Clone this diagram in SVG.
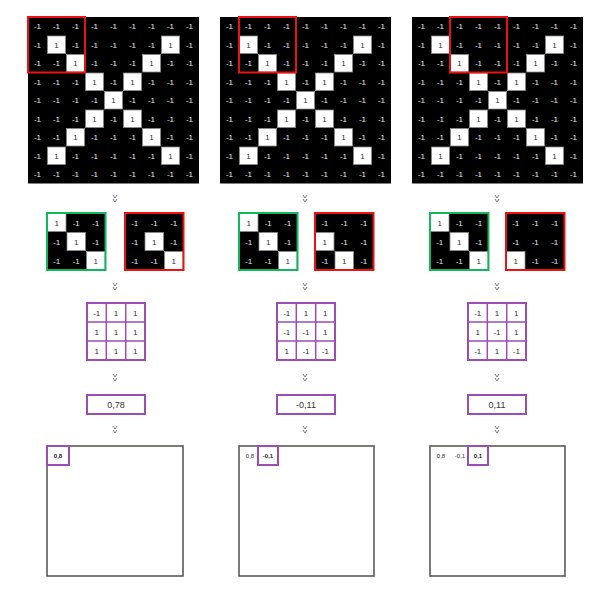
<svg xmlns="http://www.w3.org/2000/svg" xmlns:xlink="http://www.w3.org/1999/xlink" width="595" height="589" viewBox="0 0 595 589">
<style>
text{font-family:"Liberation Sans",Arial,sans-serif;text-anchor:middle}
.n{fill:#e6e6e6;font-size:8px}
.p{fill:#333;font-size:8px}
.w{fill:#fff;stroke:#8a8a8a;stroke-width:0.8}
.bg{fill:#000}
.red{fill:none;stroke:#ee1111;stroke-width:2}
.grn{fill:none;stroke:#11b85a;stroke-width:2}
.pur{fill:none;stroke:#9b4db5;stroke-width:2}
.pl{stroke:#9b4db5;stroke-width:1.5}
.val{fill:#333;font-size:9px}
.big{fill:#fff;stroke:#5a5a55;stroke-width:1.6}
.sm{fill:#333;font-size:6px}
.smb{fill:#222;font-size:6px;font-weight:bold}
.chev{fill:none;stroke:#6a6a78;stroke-width:0.9}
</style>
<defs>
<g id="grid9">
<rect class="bg" x="0" y="0" width="171" height="166.5"/>
<rect class="w" x="19.5" y="19" width="18" height="17.5"/>
<rect class="w" x="133.5" y="19" width="18" height="17.5"/>
<rect class="w" x="38.5" y="37.5" width="18" height="17.5"/>
<rect class="w" x="114.5" y="37.5" width="18" height="17.5"/>
<rect class="w" x="57.5" y="56" width="18" height="17.5"/>
<rect class="w" x="95.5" y="56" width="18" height="17.5"/>
<rect class="w" x="76.5" y="74.5" width="18" height="17.5"/>
<rect class="w" x="57.5" y="93" width="18" height="17.5"/>
<rect class="w" x="95.5" y="93" width="18" height="17.5"/>
<rect class="w" x="38.5" y="111.5" width="18" height="17.5"/>
<rect class="w" x="114.5" y="111.5" width="18" height="17.5"/>
<rect class="w" x="19.5" y="130" width="18" height="17.5"/>
<rect class="w" x="133.5" y="130" width="18" height="17.5"/>
<g class="n">
<text x="9.5" y="12.25">-1</text><text x="28.5" y="12.25">-1</text><text x="47.5" y="12.25">-1</text><text x="66.5" y="12.25">-1</text><text x="85.5" y="12.25">-1</text><text x="104.5" y="12.25">-1</text><text x="123.5" y="12.25">-1</text><text x="142.5" y="12.25">-1</text><text x="161.5" y="12.25">-1</text>
<text x="9.5" y="30.75">-1</text><text x="47.5" y="30.75">-1</text><text x="66.5" y="30.75">-1</text><text x="85.5" y="30.75">-1</text><text x="104.5" y="30.75">-1</text><text x="123.5" y="30.75">-1</text><text x="161.5" y="30.75">-1</text>
<text x="9.5" y="49.25">-1</text><text x="28.5" y="49.25">-1</text><text x="66.5" y="49.25">-1</text><text x="85.5" y="49.25">-1</text><text x="104.5" y="49.25">-1</text><text x="142.5" y="49.25">-1</text><text x="161.5" y="49.25">-1</text>
<text x="9.5" y="67.75">-1</text><text x="28.5" y="67.75">-1</text><text x="47.5" y="67.75">-1</text><text x="85.5" y="67.75">-1</text><text x="123.5" y="67.75">-1</text><text x="142.5" y="67.75">-1</text><text x="161.5" y="67.75">-1</text>
<text x="9.5" y="86.25">-1</text><text x="28.5" y="86.25">-1</text><text x="47.5" y="86.25">-1</text><text x="66.5" y="86.25">-1</text><text x="104.5" y="86.25">-1</text><text x="123.5" y="86.25">-1</text><text x="142.5" y="86.25">-1</text><text x="161.5" y="86.25">-1</text>
<text x="9.5" y="104.75">-1</text><text x="28.5" y="104.75">-1</text><text x="47.5" y="104.75">-1</text><text x="85.5" y="104.75">-1</text><text x="123.5" y="104.75">-1</text><text x="142.5" y="104.75">-1</text><text x="161.5" y="104.75">-1</text>
<text x="9.5" y="123.25">-1</text><text x="28.5" y="123.25">-1</text><text x="66.5" y="123.25">-1</text><text x="85.5" y="123.25">-1</text><text x="104.5" y="123.25">-1</text><text x="142.5" y="123.25">-1</text><text x="161.5" y="123.25">-1</text>
<text x="9.5" y="141.75">-1</text><text x="47.5" y="141.75">-1</text><text x="66.5" y="141.75">-1</text><text x="85.5" y="141.75">-1</text><text x="104.5" y="141.75">-1</text><text x="123.5" y="141.75">-1</text><text x="161.5" y="141.75">-1</text>
<text x="9.5" y="160.25">-1</text><text x="28.5" y="160.25">-1</text><text x="47.5" y="160.25">-1</text><text x="66.5" y="160.25">-1</text><text x="85.5" y="160.25">-1</text><text x="104.5" y="160.25">-1</text><text x="123.5" y="160.25">-1</text><text x="142.5" y="160.25">-1</text><text x="161.5" y="160.25">-1</text>
</g>
<g class="p">
<text x="28.5" y="30.75">1</text><text x="142.5" y="30.75">1</text>
<text x="47.5" y="49.25">1</text><text x="123.5" y="49.25">1</text>
<text x="66.5" y="67.75">1</text><text x="104.5" y="67.75">1</text>
<text x="85.5" y="86.25">1</text>
<text x="66.5" y="104.75">1</text><text x="104.5" y="104.75">1</text>
<text x="47.5" y="123.25">1</text><text x="123.5" y="123.25">1</text>
<text x="28.5" y="141.75">1</text><text x="142.5" y="141.75">1</text>
</g>
</g>
<g id="filter">
<rect class="bg" x="0" y="0" width="58.5" height="57"/>
<rect class="w" x="0.5" y="0.5" width="18.5" height="18"/>
<rect class="w" x="20" y="19.5" width="18.5" height="18"/>
<rect class="w" x="39.5" y="38.5" width="18.5" height="18"/>
<text class="p" x="9.75" y="12.5">1</text><text class="n" x="29.25" y="12.5">-1</text><text class="n" x="48.75" y="12.5">-1</text>
<text class="n" x="9.75" y="31.5">-1</text><text class="p" x="29.25" y="31.5">1</text><text class="n" x="48.75" y="31.5">-1</text>
<text class="n" x="9.75" y="50.5">-1</text><text class="n" x="29.25" y="50.5">-1</text><text class="p" x="48.75" y="50.5">1</text>
<rect class="grn" x="0" y="0" width="58.5" height="57"/>
</g>
<g id="chev"><path class="chev" d="M-2,-4 L0,-1 L2,-4 M-2,0 L0,3 L2,0"/></g>
</defs>

<!-- column 1 -->
<g id="image1"><use xlink:href="#grid9" x="28" y="17"/><rect class="red" x="28" y="17" width="57" height="55.5"/></g>
<g id="filter1"><use xlink:href="#filter" x="47" y="213"/></g>
<g id="patch1">
<rect class="bg" x="125" y="213" width="58.5" height="57"/>
<rect class="w" x="145" y="232.5" width="18.5" height="18"/>
<rect class="w" x="164.5" y="251.5" width="18.5" height="18"/>
<text class="n" x="134.75" y="225.5">-1</text><text class="n" x="154.25" y="225.5">-1</text><text class="n" x="173.75" y="225.5">-1</text>
<text class="n" x="134.75" y="244.5">-1</text><text class="p" x="154.25" y="244.5">1</text><text class="n" x="173.75" y="244.5">-1</text>
<text class="n" x="134.75" y="263.5">-1</text><text class="n" x="154.25" y="263.5">-1</text><text class="p" x="173.75" y="263.5">1</text>
<rect class="red" x="125" y="213" width="58.5" height="57"/>
</g>
<g id="product1">
<rect fill="#fff" x="87" y="303" width="58" height="57"/>
<path class="pl" d="M106.3,303V360M125.7,303V360M87,322H145M87,341H145"/>
<rect class="pur" x="87" y="303" width="58" height="57"/>
<text class="p" x="96.7" y="315.5">-1</text><text class="p" x="116" y="315.5">1</text><text class="p" x="135.3" y="315.5">1</text>
<text class="p" x="96.7" y="334.5">1</text><text class="p" x="116" y="334.5">1</text><text class="p" x="135.3" y="334.5">1</text>
<text class="p" x="96.7" y="353.5">1</text><text class="p" x="116" y="353.5">1</text><text class="p" x="135.3" y="353.5">1</text>
</g>
<g id="value1"><rect fill="#fff" class="pur" x="87" y="395" width="58" height="19"/><text class="val" x="116" y="407.5">0,78</text></g>
<g id="map1">
<rect class="big" x="47" y="446" width="136" height="130"/>
<rect fill="#fff" class="pur" x="47" y="446" width="22" height="19"/>
<text class="smb" x="58" y="458">0,8</text>
</g>

<!-- column 2 -->
<g id="image2"><use xlink:href="#grid9" x="220" y="17"/><rect class="red" x="239" y="17" width="57" height="55.5"/></g>
<g id="filter2"><use xlink:href="#filter" x="239" y="213"/></g>
<g id="patch2">
<rect class="bg" x="315" y="213" width="58.5" height="57"/>
<rect class="w" x="315.5" y="232.5" width="18.5" height="18"/>
<rect class="w" x="335" y="251.5" width="18.5" height="18"/>
<text class="n" x="324.75" y="225.5">-1</text><text class="n" x="344.25" y="225.5">-1</text><text class="n" x="363.75" y="225.5">-1</text>
<text class="p" x="324.75" y="244.5">1</text><text class="n" x="344.25" y="244.5">-1</text><text class="n" x="363.75" y="244.5">-1</text>
<text class="n" x="324.75" y="263.5">-1</text><text class="p" x="344.25" y="263.5">1</text><text class="n" x="363.75" y="263.5">-1</text>
<rect class="red" x="315" y="213" width="58.5" height="57"/>
</g>
<g id="product2">
<rect fill="#fff" x="277" y="303" width="58" height="57"/>
<path class="pl" d="M296.3,303V360M315.7,303V360M277,322H335M277,341H335"/>
<rect class="pur" x="277" y="303" width="58" height="57"/>
<text class="p" x="286.7" y="315.5">-1</text><text class="p" x="306" y="315.5">1</text><text class="p" x="325.3" y="315.5">1</text>
<text class="p" x="286.7" y="334.5">-1</text><text class="p" x="306" y="334.5">-1</text><text class="p" x="325.3" y="334.5">1</text>
<text class="p" x="286.7" y="353.5">1</text><text class="p" x="306" y="353.5">-1</text><text class="p" x="325.3" y="353.5">-1</text>
</g>
<g id="value2"><rect fill="#fff" class="pur" x="277" y="395" width="58" height="19"/><text class="val" x="306" y="407.5">-0,11</text></g>
<g id="map2">
<rect class="big" x="239" y="446" width="135" height="130"/>
<text class="sm" x="250" y="458">0,8</text>
<rect fill="#fff" class="pur" x="258" y="446" width="20" height="19"/>
<text class="smb" x="268" y="458">-0,1</text>
</g>

<!-- column 3 -->
<g id="image3"><use xlink:href="#grid9" x="412" y="17"/><rect class="red" x="450" y="17" width="57" height="55.5"/></g>
<g id="filter3"><use xlink:href="#filter" x="430" y="213"/></g>
<g id="patch3">
<rect class="bg" x="506" y="213" width="58.5" height="57"/>
<rect class="w" x="506.5" y="251.5" width="18.5" height="18"/>
<text class="n" x="515.75" y="225.5">-1</text><text class="n" x="535.25" y="225.5">-1</text><text class="n" x="554.75" y="225.5">-1</text>
<text class="n" x="515.75" y="244.5">-1</text><text class="n" x="535.25" y="244.5">-1</text><text class="n" x="554.75" y="244.5">-1</text>
<text class="p" x="515.75" y="263.5">1</text><text class="n" x="535.25" y="263.5">-1</text><text class="n" x="554.75" y="263.5">-1</text>
<rect class="red" x="506" y="213" width="58.5" height="57"/>
</g>
<g id="product3">
<rect fill="#fff" x="468" y="303" width="58" height="57"/>
<path class="pl" d="M487.3,303V360M506.7,303V360M468,322H526M468,341H526"/>
<rect class="pur" x="468" y="303" width="58" height="57"/>
<text class="p" x="477.7" y="315.5">-1</text><text class="p" x="497" y="315.5">1</text><text class="p" x="516.3" y="315.5">1</text>
<text class="p" x="477.7" y="334.5">1</text><text class="p" x="497" y="334.5">-1</text><text class="p" x="516.3" y="334.5">1</text>
<text class="p" x="477.7" y="353.5">-1</text><text class="p" x="497" y="353.5">1</text><text class="p" x="516.3" y="353.5">-1</text>
</g>
<g id="value3"><rect fill="#fff" class="pur" x="468" y="395" width="58" height="19"/><text class="val" x="497" y="407.5">0,11</text></g>
<g id="map3">
<rect class="big" x="430" y="446" width="135" height="130"/>
<text class="sm" x="441" y="458">0,8</text>
<text class="sm" x="460" y="458">-0,1</text>
<rect fill="#fff" class="pur" x="468" y="446" width="20" height="19"/>
<text class="smb" x="478" y="458">0,1</text>
</g>

<g id="connectors">
<use xlink:href="#chev" x="115" y="199"/><use xlink:href="#chev" x="115" y="287"/><use xlink:href="#chev" x="115" y="378"/><use xlink:href="#chev" x="115" y="430"/>
<use xlink:href="#chev" x="305" y="199"/><use xlink:href="#chev" x="305" y="287"/><use xlink:href="#chev" x="305" y="378"/><use xlink:href="#chev" x="305" y="430"/>
<use xlink:href="#chev" x="497" y="199"/><use xlink:href="#chev" x="497" y="287"/><use xlink:href="#chev" x="497" y="378"/><use xlink:href="#chev" x="497" y="430"/>
</g>
</svg>
